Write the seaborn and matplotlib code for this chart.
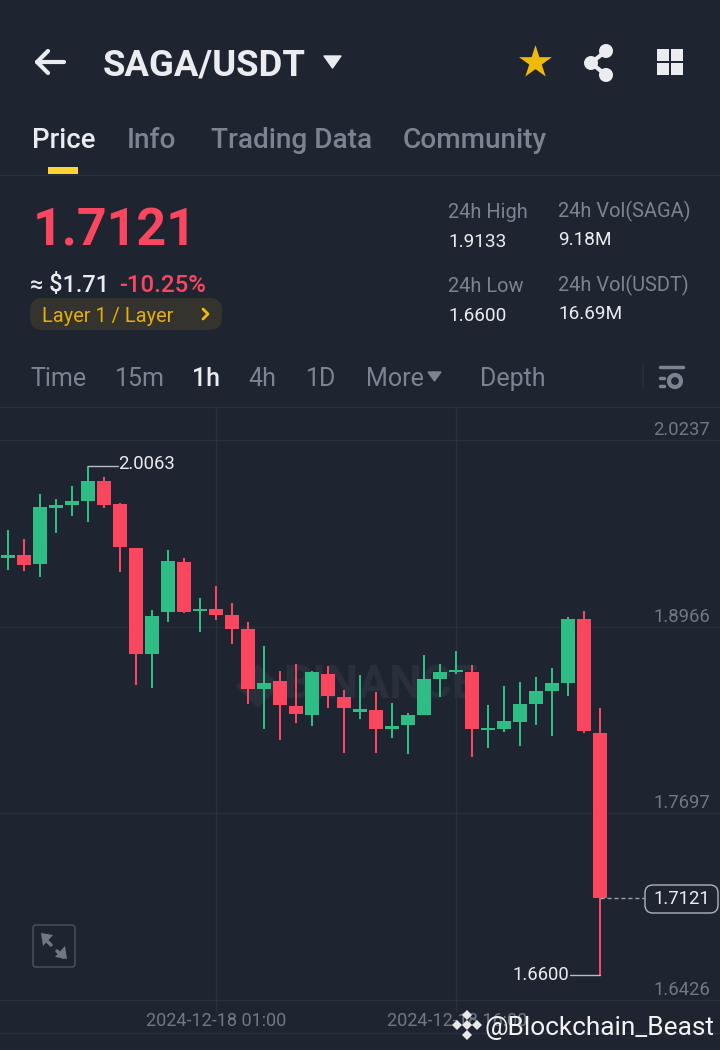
#!/usr/bin/env python
# -*- coding: utf-8 -*-
"""SAGA/USDT 1h candles, phone screenshot layout."""

import matplotlib
matplotlib.use("Agg")
import matplotlib.pyplot as plt
from matplotlib.patches import Circle, FancyBboxPatch, Polygon, Rectangle
import pandas as pd
import seaborn as sns

# candle data
opens = [1.9437, 1.9455, 1.9394, 1.9780, 1.9800, 1.9825, 1.9963, 1.9803, 1.9505, 1.8783,
         1.9067, 1.9408, 1.9074, 1.9088, 1.9047, 1.8954, 1.8545, 1.8599, 1.8431, 1.8366,
         1.8649, 1.8490, 1.8390, 1.8400, 1.8273, 1.8298, 1.8368, 1.8613, 1.8661, 1.8663,
         1.8268, 1.8275, 1.8322, 1.8443, 1.8529, 1.8586, 1.9022, 1.8243]
highs = [1.9628, 1.9564, 1.9873, 1.9837, 1.9929, 2.0063, 1.9987, 1.9810, 1.9507, 1.9083,
         1.9491, 1.9435, 1.9163, 1.9248, 1.9133, 1.8999, 1.8840, 1.8670, 1.8717, 1.8670,
         1.8702, 1.8536, 1.8640, 1.8526, 1.8447, 1.8379, 1.8779, 1.8715, 1.8804, 1.8710,
         1.8434, 1.8565, 1.8595, 1.8627, 1.8690, 1.9037, 1.9076, 1.8416]
lows = [1.9355, 1.9351, 1.9310, 1.9609, 1.9725, 1.9684, 1.9778, 1.9344, 1.8572, 1.8550,
        1.8999, 1.9060, 1.8935, 1.9015, 1.8849, 1.8441, 1.8270, 1.8198, 1.8311, 1.8293,
        1.8413, 1.8111, 1.8339, 1.8111, 1.8211, 1.8100, 1.8366, 1.8492, 1.8645, 1.8084,
        1.8141, 1.8250, 1.8159, 1.8300, 1.8227, 1.8497, 1.8247, 1.6600]
closes = [1.9457, 1.9391, 1.9786, 1.9800, 1.9823, 1.9959, 1.9800, 1.9512, 1.8781, 1.9044,
          1.9417, 1.9071, 1.9088, 1.9047, 1.8954, 1.8545, 1.8588, 1.8434, 1.8375, 1.8661,
          1.8497, 1.8413, 1.8407, 1.8273, 1.8295, 1.8368, 1.8615, 1.8661, 1.8676, 1.8273,
          1.8281, 1.8329, 1.8441, 1.8529, 1.8586, 1.9024, 1.8257, 1.7121]

price_levels = [2.0237, 1.8966, 1.7697, 1.6426]
time_ticks = [13, 28]
time_labels = ["2024-12-18 01:00", "2024-12-18 16:00"]
high_label = 2.0063
low_label = 1.6600
last_price = 1.7121

# colours
BG = "#1F2530"
LINE = "#2B313B"
GREY = "#7B8491"
AXIS_GREY = "#6F7884"
WHITE = "#EAECEF"
RED = "#FB465F"
GREEN = "#2EBD85"
YELLOW = "#F0B90B"
FAINT = "#2A303B"

sns.set_theme(style="dark")
plt.rcParams["font.family"] = ["Roboto", "DejaVu Sans"]
plt.rcParams["figure.dpi"] = 100


def px(size):
    # font size from pixel height
    return size * 0.72


df = pd.DataFrame({"open": opens, "high": highs, "low": lows, "close": closes})
df["idx"] = df.index
df["top"] = df[["open", "close"]].max(axis=1)
df["bottom"] = df[["open", "close"]].min(axis=1)
df["body"] = df["top"] - df["bottom"]
df["wick"] = df["high"] - df["low"]
df["up"] = df["close"] >= df["open"]

fig = plt.figure(figsize=(7.2, 10.5), facecolor=BG)

# chart area runs from y=407 to y=1012 in the screenshot
ax = fig.add_axes([0, (1050 - 1012) / 1050, 1, (1012 - 407) / 1050], facecolor=BG)

for is_up, color in [(True, GREEN), (False, RED)]:
    part = df[df["up"] == is_up]
    sns.barplot(data=part, x="idx", y="wick", bottom=part["low"].values, native_scale=True,
                width=0.125, color=color, saturation=1, linewidth=0, errorbar=None,
                ax=ax, zorder=3)
    sns.barplot(data=part, x="idx", y="body", bottom=part["bottom"].values, native_scale=True,
                width=0.875, color=color, saturation=1, linewidth=0, errorbar=None,
                ax=ax, zorder=4)

ax.set_xlim(-0.5, 44.5)
ax.set_ylim(1.6345, 2.0465)
ax.set_xlabel("")
ax.set_ylabel("")
ax.set_xticks([])
ax.set_yticks([])
ax.grid(False)
for side in ax.spines.values():
    side.set_visible(False)

for level in price_levels:
    ax.axhline(level, color=LINE, linewidth=1, zorder=1)
    ax.annotate(f"{level:.4f}", xy=(1, level), xycoords=("axes fraction", "data"),
                xytext=(-7.2, 7.6), textcoords="offset points", ha="right", va="center",
                color=AXIS_GREY, fontsize=px(18.5))
for tick in time_ticks:
    ax.axvline(tick, color=LINE, linewidth=1, zorder=1)

# faint exchange watermark
ax.text(23.3, 1.8572, "BINANCE", color=FAINT, fontsize=px(46), fontweight="bold",
        ha="center", va="center", zorder=2)

# high / low / last markers
ax.plot([5, 6.875], [high_label, high_label], color="#B7BDC6", linewidth=1, zorder=5)
ax.text(6.9, high_label + 0.0012, f"{high_label:.4f}", color=WHITE, fontsize=px(18.5),
        va="center", ha="left", zorder=5)
ax.plot([35.1, 37], [low_label, low_label], color="#B7BDC6", linewidth=1, zorder=5)
ax.text(35.1, low_label - 0.0005, f"{low_label:.4f}", color=WHITE, fontsize=px(18.5),
        va="center", ha="right", zorder=5)
ax.plot([37, 39.75], [last_price, last_price], color="#9AA1AB", linewidth=1, linestyle=(0, (3, 2)), zorder=5)

# everything else sits on an overlay in screenshot pixels
ui = fig.add_axes([0, 0, 1, 1], facecolor="none")
ui.set_xlim(0, 720)
ui.set_ylim(1050, 0)
ui.axis("off")


def label(x, y, s, color=GREY, size=22, weight="normal", ha="left"):
    # Roboto sits a little high with va=center
    ui.text(x, y + 2, s, color=color, fontsize=px(size), fontweight=weight, ha=ha, va="center")


# logo part of the faint watermark goes under the candles
ax.add_patch(Polygon([(236, 686), (258, 664), (280, 686), (258, 708)], closed=True,
                     facecolor=FAINT, linewidth=0, zorder=2, transform=ui.transData))

# header
ui.plot([37, 64], [62, 62], color=WHITE, linewidth=3, solid_capstyle="round")
ui.plot([48, 37, 48], [51, 62, 73], color=WHITE, linewidth=3, solid_capstyle="round", solid_joinstyle="round")
label(103, 63, "SAGA/USDT", WHITE, 36.5, "bold")
ui.add_patch(Polygon([(324, 56), (341, 56), (332.5, 68)], closed=True, facecolor=WHITE, edgecolor=WHITE, linewidth=1, joinstyle="round"))
ui.scatter([535], [62], marker="*", s=620, color=YELLOW, linewidths=0)
ui.plot([606, 591, 606], [51, 63, 75], color=WHITE, linewidth=3)
for cx, cy, r in [(606, 51, 7), (591, 63, 7), (606, 75, 7)]:
    ui.add_patch(Circle((cx, cy), r, color=WHITE, linewidth=0))
for gx, gy in [(657, 49), (671, 49), (657, 63), (671, 63)]:
    ui.add_patch(Rectangle((gx, gy), 12, 12, color=WHITE, linewidth=0))

# tabs
label(32, 138, "Price", WHITE, 27.5, "medium")
label(127, 138, "Info", GREY, 28, "medium")
label(211, 138, "Trading Data", GREY, 28, "medium")
label(403, 138, "Community", GREY, 28, "medium")
ui.add_patch(Rectangle((48, 167), 30, 7, color="#FCD535", linewidth=0))
ui.plot([0, 720], [175, 175], color=LINE, linewidth=1)

# price block
label(33, 229, "1.7121", RED, 52, "bold")
label(30, 283, "≈ $1.71", WHITE, 23.5, "medium")
label(119, 283, "-10.25%", RED, 24, "medium")
ui.add_patch(FancyBboxPatch((36, 304), 180, 20, boxstyle="round,pad=0,rounding_size=6", mutation_aspect=1,
                            facecolor="#35332D", edgecolor="#35332D", linewidth=12 * 0.72 * 1.0))
label(42, 314, "Layer 1 / Layer", "#E3AE0C", 20)
ui.plot([203, 208, 203], [309, 314, 319], color=YELLOW, linewidth=2)

# 24h stats
label(448, 211, "24h High", GREY, 20)
label(448, 240, "1.9133", WHITE, 19)
label(448, 285, "24h Low", GREY, 20)
label(448, 314, "1.6600", WHITE, 19)
label(558, 209, "24h Vol(SAGA)", GREY, 20)
label(558, 238, "9.18M", WHITE, 19)
label(558, 283, "24h Vol(USDT)", GREY, 20)
label(558, 312, "16.69M", WHITE, 19)

# timeframe row
label(30, 377, "Time", GREY, 25)
label(115, 377, "15m", GREY, 25)
label(192, 377, "1h", WHITE, 25, "medium")
label(248, 377, "4h", GREY, 25)
label(306, 377, "1D", GREY, 25)
label(366, 377, "More", GREY, 25)
ui.add_patch(Polygon([(428, 372), (441, 372), (434.5, 381)], closed=True, facecolor=GREY, edgecolor=GREY, linewidth=1))
label(480, 377, "Depth", GREY, 25)
ui.plot([643, 643], [364, 388], color=LINE, linewidth=1.2)
ui.plot([660, 683], [367, 367], color=GREY, linewidth=2.5)
ui.plot([660, 664], [378, 378], color=GREY, linewidth=2.5)
ui.plot([660, 664], [386, 386], color=GREY, linewidth=2.5)
ui.add_patch(Circle((675, 381), 6, facecolor=BG, edgecolor=GREY, linewidth=3))
ui.plot([0, 720], [407, 407], color=LINE, linewidth=1)

# last price pill
ui.add_patch(FancyBboxPatch((645, 885), 73, 28, boxstyle="round,pad=0,rounding_size=8",
                            facecolor=BG, edgecolor="#AEB4BC", linewidth=1))
label(682, 897, f"{last_price:.4f}", WHITE, 18.5, ha="center")

# expand button
ui.add_patch(FancyBboxPatch((33, 925), 42, 42, boxstyle="round,pad=0,rounding_size=3",
                            facecolor=BG, edgecolor="#4C535E", linewidth=1))
ui.plot([45, 51], [939, 945], color=AXIS_GREY, linewidth=2.5)
ui.plot([57, 63], [951, 957], color=AXIS_GREY, linewidth=2.5)
ui.add_patch(Polygon([(41, 933), (53, 935), (43, 946)], closed=True, facecolor=AXIS_GREY, linewidth=0))
ui.add_patch(Polygon([(67, 959), (55, 957), (65, 946)], closed=True, facecolor=AXIS_GREY, linewidth=0))

# time axis
ui.plot([0, 720], [1033, 1033], color=LINE, linewidth=1)
label(216, 1019, time_labels[0], AXIS_GREY, 18, ha="center")
label(457, 1019, time_labels[1], AXIS_GREY, 18, ha="center")

# repost watermark
for cx, cy in [(467, 1015), (467, 1035), (457, 1025), (477, 1025)]:
    ui.add_patch(Polygon([(cx - 5, cy), (cx, cy - 5), (cx + 5, cy), (cx, cy + 5)], closed=True,
                         facecolor="#E8E8E8", linewidth=0, zorder=6))
ui.add_patch(Polygon([(462, 1025), (467, 1020), (472, 1025), (467, 1030)], closed=True,
                     facecolor="#E8E8E8", linewidth=0, zorder=6))
ui.text(484, 1028, "@Blockchain_Beast", color="#F2F2F2", fontsize=px(26.2), ha="left", va="center", zorder=6)

plt.savefig("out.png", dpi=100, facecolor=BG)
plt.close()
